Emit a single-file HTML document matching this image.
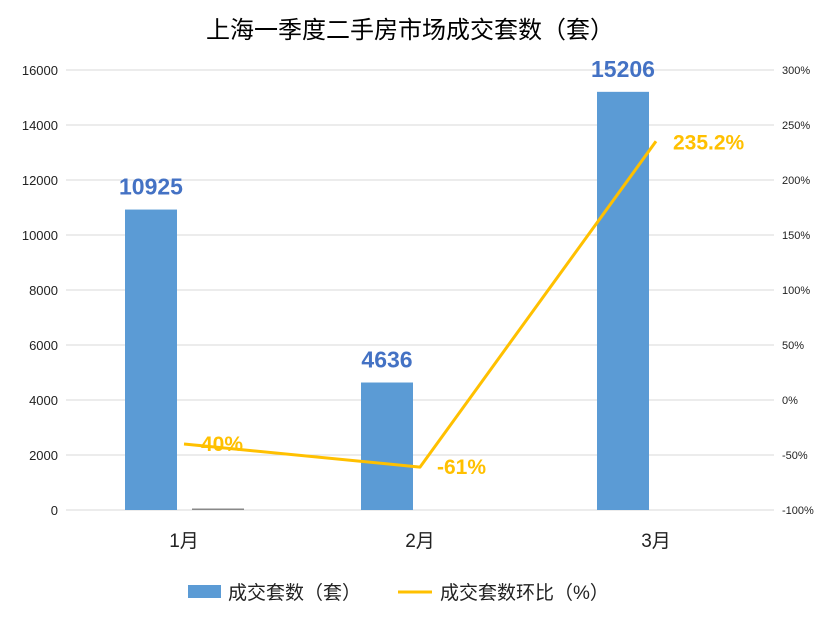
<!DOCTYPE html>
<html><head><meta charset="utf-8"><style>
body{margin:0;background:#fff;font-family:"Liberation Sans","Noto Sans CJK SC",sans-serif;}
svg text{font-family:"Liberation Sans","Noto Sans CJK SC",sans-serif;}
</style></head><body>
<svg id="c" width="834" height="626" xmlns="http://www.w3.org/2000/svg">
<text x="410" y="38" text-anchor="middle" font-size="24" fill="#000">上海一季度二手房市场成交套数（套）</text>
<g id="grid"></g><g id="bars"></g><g id="line"></g><g id="labels"></g>
<g>
<rect x="188" y="585" width="33" height="13" fill="#5b9bd5"/>
<text x="228" y="599" font-size="19" fill="#222">成交套数（套）</text>
<line x1="398" y1="592" x2="432" y2="592" stroke="#ffc000" stroke-width="3"/>
<text x="440" y="599" font-size="19" fill="#222">成交套数环比（%）</text>
</g>
</svg>
<script>
const categories=["1月","2月","3月"];
const volumes=[10925,4636,15206];
const growth=[-40,-61,235.2];
const growthLabels=["-40%","-61%","235.2%"];
const leftTicks=[0,2000,4000,6000,8000,10000,12000,14000,16000];
const rightTicks=[-100,-50,0,50,100,150,200,250,300];
const NS="http://www.w3.org/2000/svg";
const x0=66,x1=774,y0=510,y1=70;
const yL=v=>y0-(v/16000)*(y0-y1);
const yR=v=>y0-((v+100)/400)*(y0-y1);
const cw=(x1-x0)/categories.length;
const xc=i=>x0+cw*(i+0.5);
function mk(t,a,p){const e=document.createElementNS(NS,t);for(const k in a)e.setAttribute(k,a[k]);document.getElementById(p).appendChild(e);return e;}
leftTicks.forEach(v=>{
 const l=mk("line",{x1:x0,x2:x1,y1:yL(v),y2:yL(v),stroke:"#d9d9d9","stroke-width":1},"grid");
 
 
 const t=mk("text",{x:58,y:yL(v)+5,"text-anchor":"end","font-size":13,fill:"#222"},"grid");t.textContent=v;
 
 
});
rightTicks.forEach(v=>{
 const t=mk("text",{x:782,y:yR(v)+4,"font-size":11,fill:"#222"},"grid");t.textContent=v+"%";
 
 
});
categories.forEach((c,i)=>{
 const t=mk("text",{x:xc(i),y:547,"text-anchor":"middle","font-size":19,fill:"#222"},"labels");t.textContent=c;
 
 
 const b=mk("rect",{x:xc(i)-59,y:yL(volumes[i]),width:52,height:y0-yL(volumes[i]),fill:"#5b9bd5"},"bars");
 
 
 const lb=mk("text",{x:xc(i)-33,y:yL(volumes[i])-15,"text-anchor":"middle","font-size":23,"font-weight":"bold",fill:"#4472c4"},"labels");lb.textContent=volumes[i];
 
 
});
const g0=mk("rect",{x:xc(0)+8,y:508.5,width:52,height:1.5,fill:"#888"},"bars");


const pts=growth.map((v,i)=>xc(i)+"," +yR(v)).join(" ");
const pl=mk("polyline",{points:pts,fill:"none",stroke:"#ffc000","stroke-width":3,"stroke-linejoin":"round"},"line");


growth.forEach((v,i)=>{
 const t=mk("text",{x:xc(i)+(i==0?10:17),y:yR(v)+(i==2?8:7),"font-size":21,"font-weight":"bold",fill:"#ffc000"},"labels");t.textContent=growthLabels[i];
 
 
});
</script>
</body></html>
